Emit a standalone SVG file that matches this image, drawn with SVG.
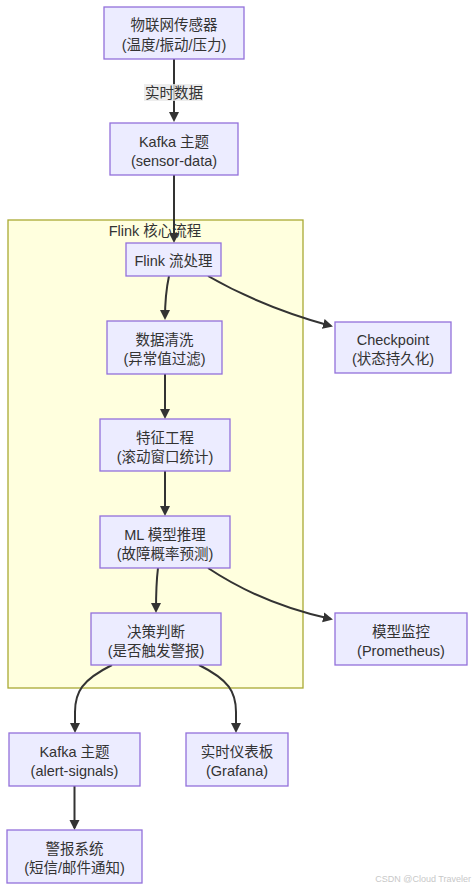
<svg xmlns="http://www.w3.org/2000/svg" width="474" height="890" viewBox="0 0 474 890">
<style>
.node rect{fill:#ECECFF;stroke:#9370DB;stroke-width:1.3}
.cluster rect{fill:#FFFFDE;stroke:#AAAA33;stroke-width:1.3}
text{font-family:"Liberation Sans","Noto Sans CJK SC",sans-serif;font-size:14.5px;fill:#333;text-anchor:middle;dominant-baseline:central}
.edge{fill:none;stroke:#333;stroke-width:2}
.wm{font-size:9px;fill:#c8c8c8;text-anchor:end}
</style>
<defs>
<marker id="arrow" viewBox="0 0 10 10" refX="8" refY="5" markerWidth="10" markerHeight="11" markerUnits="userSpaceOnUse" orient="auto">
<path d="M0,0 L10,5 L0,10 z" fill="#333"/>
</marker>
</defs>
<rect width="474" height="890" fill="#fff"/>
<g id="cluster-flink" class="cluster">
<rect x="8" y="220" width="295" height="468"/>
<text x="155" y="231">Flink 核心流程</text>
</g>
<g id="edges">
<path class="edge" d="M174,59 L174,120" marker-end="url(#arrow)"/>
<rect x="144" y="84" width="59" height="17" fill="#E8E8E8" fill-opacity="0.8"/>
<text x="174" y="92.5">实时数据</text>
<path class="edge" d="M174,175 L174,241" marker-end="url(#arrow)"/>
<path class="edge" d="M169,276 C166,290 165,304 165,318" marker-end="url(#arrow)"/>
<path class="edge" d="M208,276 Q262,307 331,326" marker-end="url(#arrow)"/>
<path class="edge" d="M165,374 L165,417" marker-end="url(#arrow)"/>
<path class="edge" d="M165,471 L165,514" marker-end="url(#arrow)"/>
<path class="edge" d="M158,568 C156,584 156,597 156,611" marker-end="url(#arrow)"/>
<path class="edge" d="M208,568 Q262,604 331,619" marker-end="url(#arrow)"/>
<path class="edge" d="M112,665 C82,680 75,692 75,712 L75,731" marker-end="url(#arrow)"/>
<path class="edge" d="M199,665 C229,680 236,692 236,712 L236,731" marker-end="url(#arrow)"/>
<path class="edge" d="M74.5,786 L74.5,828" marker-end="url(#arrow)"/>
</g>
<g id="node-sensor" class="node">
<rect x="104" y="7" width="140" height="52"/>
<text x="174" y="25">物联网传感器</text>
<text x="174" y="44.5">(温度/振动/压力)</text>
</g>
<g id="node-kafka-in" class="node">
<rect x="110" y="123" width="128" height="52"/>
<text x="174" y="141.5">Kafka 主题</text>
<text x="174" y="161">(sensor-data)</text>
</g>
<g id="node-flink" class="node">
<rect x="126" y="243" width="95" height="33"/>
<text x="173.5" y="261">Flink 流处理</text>
</g>
<g id="node-checkpoint" class="node">
<rect x="335" y="322" width="116" height="51"/>
<text x="393" y="339.5">Checkpoint</text>
<text x="393" y="358.5">(状态持久化)</text>
</g>
<g id="node-clean" class="node">
<rect x="107" y="321" width="115" height="53"/>
<text x="164.5" y="339.5">数据清洗</text>
<text x="164.5" y="359">(异常值过滤)</text>
</g>
<g id="node-feature" class="node">
<rect x="100" y="419" width="130" height="52"/>
<text x="165" y="437.5">特征工程</text>
<text x="165" y="457">(滚动窗口统计)</text>
</g>
<g id="node-ml" class="node">
<rect x="100" y="516" width="130" height="52"/>
<text x="165" y="534.5">ML 模型推理</text>
<text x="165" y="554">(故障概率预测)</text>
</g>
<g id="node-decision" class="node">
<rect x="91" y="613" width="130" height="52"/>
<text x="156" y="631.5">决策判断</text>
<text x="156" y="651">(是否触发警报)</text>
</g>
<g id="node-monitor" class="node">
<rect x="335" y="613" width="132" height="52"/>
<text x="401" y="631.5">模型监控</text>
<text x="401" y="651">(Prometheus)</text>
</g>
<g id="node-kafka-out" class="node">
<rect x="9" y="733" width="131" height="53"/>
<text x="74.5" y="751.5">Kafka 主题</text>
<text x="74.5" y="771">(alert-signals)</text>
</g>
<g id="node-dashboard" class="node">
<rect x="186" y="733" width="102" height="53"/>
<text x="237" y="751.5">实时仪表板</text>
<text x="237" y="771">(Grafana)</text>
</g>
<g id="node-alert" class="node">
<rect x="7" y="830" width="135" height="53"/>
<text x="74.5" y="848.5">警报系统</text>
<text x="74.5" y="868">(短信/邮件通知)</text>
</g>
<text class="wm" x="471" y="879">CSDN @Cloud Traveler</text>
</svg>
